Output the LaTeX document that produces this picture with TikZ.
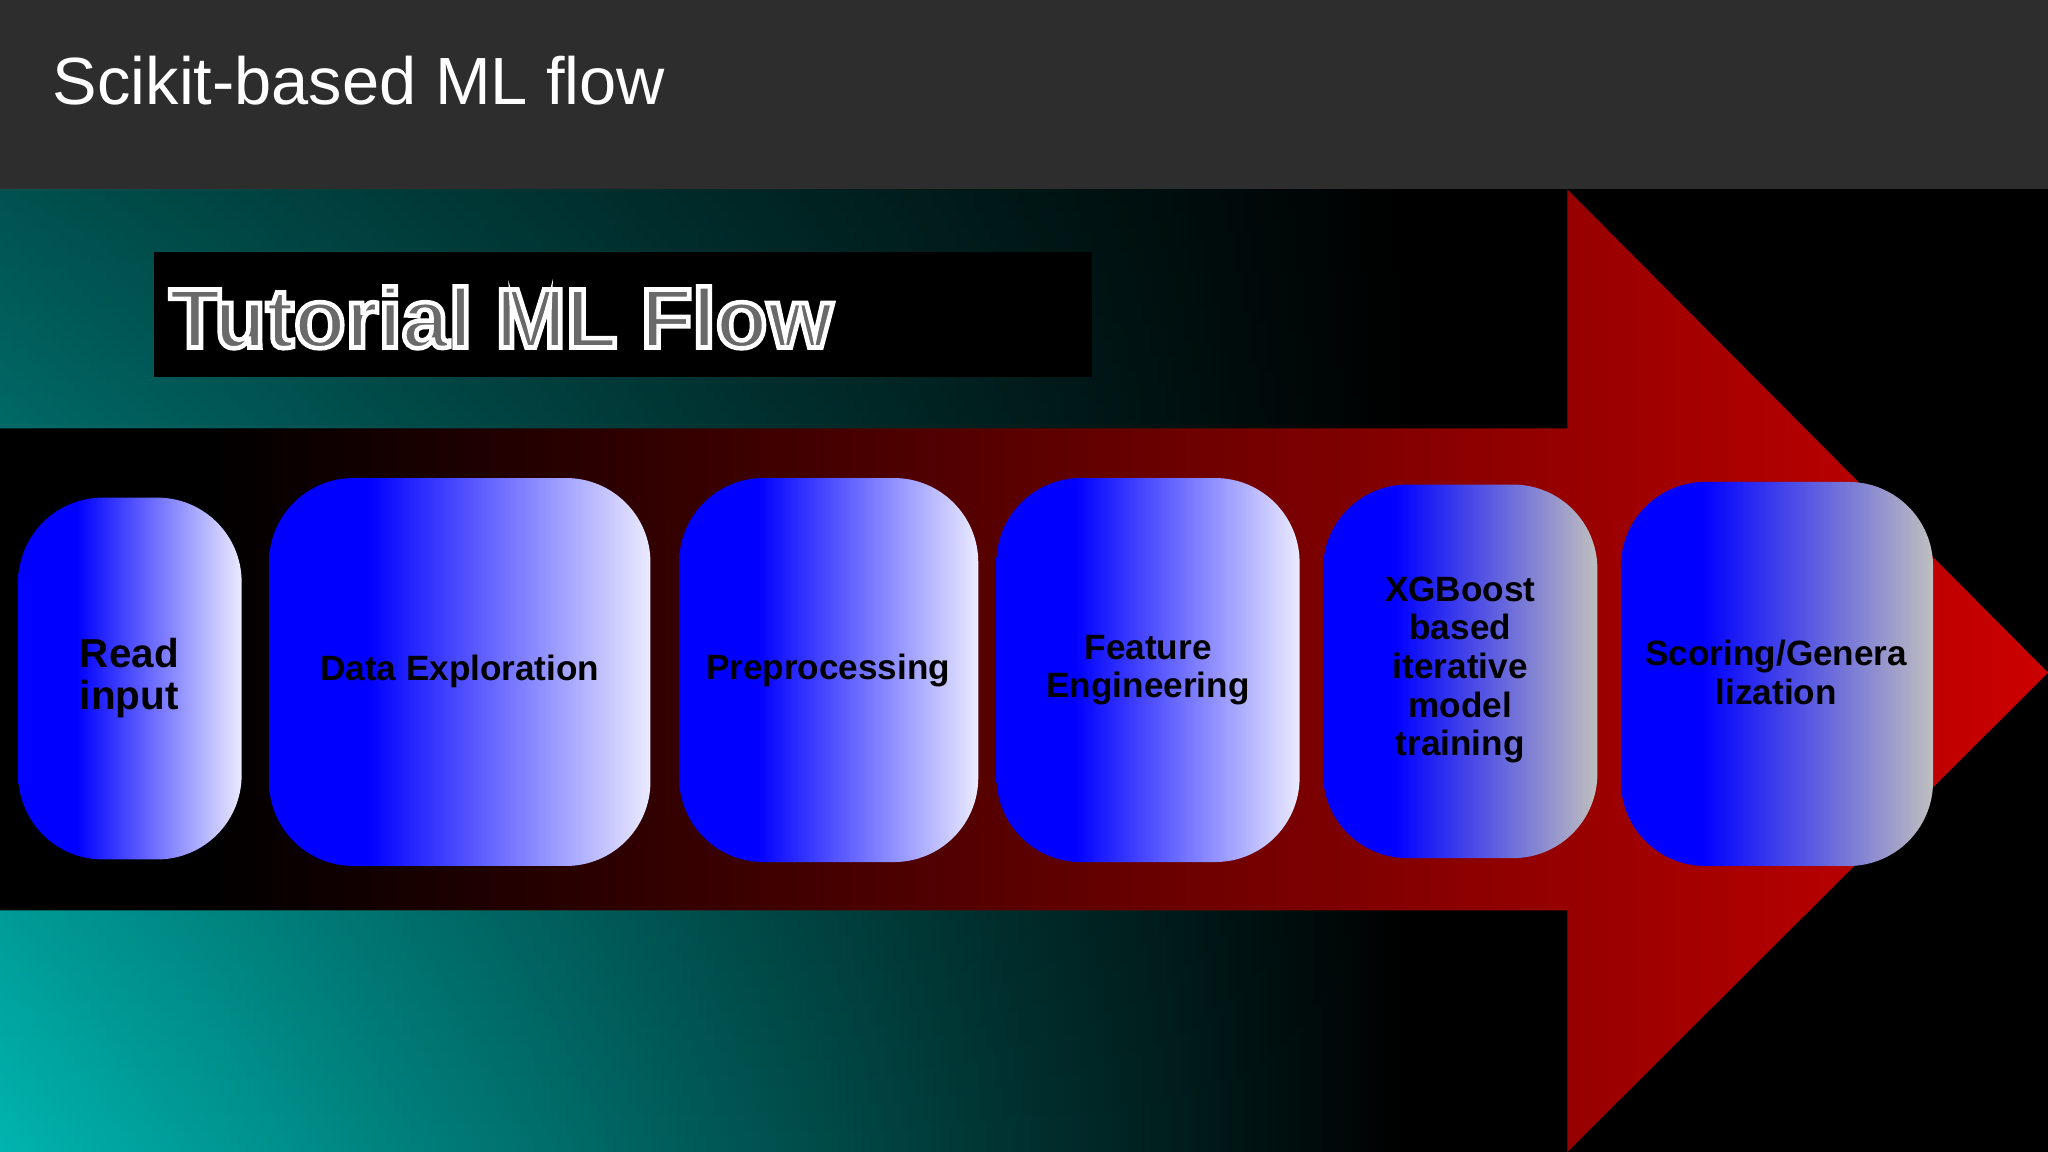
\documentclass[tikz,border=0pt]{standalone}
\usepackage{fontspec}
\setmainfont{Liberation Sans}
\usetikzlibrary{fadings}
\definecolor{topbar}{HTML}{2D2D2D}
\definecolor{teal1}{HTML}{00B5B0}
\definecolor{redA}{HTML}{CC0000}
\definecolor{tutfill}{HTML}{6A6A6A}
\pgfdeclarehorizontalshading{boxsh}{100bp}{color(0bp)=(blue); color(25bp)=(blue); color(38bp)=(blue); color(75bp)=(white!92!blue); color(100bp)=(white!92!blue)}
\pgfdeclarehorizontalshading{boxshg}{100bp}{color(0bp)=(blue); color(25bp)=(blue); color(38bp)=(blue); color(75bp)=(gray!50!white); color(100bp)=(gray!50!white)}
\pgfdeclarehorizontalshading{arrsh}{100bp}{color(0bp)=(black); color(25bp)=(black); color(30bp)=(black); color(75bp)=(redA); color(100bp)=(redA)}
\pgfdeclarehorizontalshading{tealsh}{100bp}{color(0bp)=(teal1); color(25bp)=(teal1); color(70bp)=(black); color(75bp)=(black); color(100bp)=(black)}
\tikzset{
  stagebox/.style={rounded corners=24, shading=boxsh},
  stagetext/.style={align=center, font=\bfseries\fontsize{10}{11}\selectfont, text=black},
}
\begin{document}
\begin{tikzpicture}[x=0.01306cm,y=-0.01306cm]
\useasboundingbox (0,0) rectangle (1568,882);
\fill[black] (0,0) rectangle (1568,882);
\fill[topbar] (0,0) rectangle (1568,145);
\node[anchor=west,text=white,font=\fontsize{19}{23}\selectfont] (title) at (31,62) {Scikit-based ML flow};
% teal background
\shade[shading=tealsh] (0,145) rectangle (1200,882);
\fill[black,opacity=0.55,path fading=south] (0,145) rectangle (1200,882);
% arrow
\shade[shading=arrsh] (0,328) -- (1200,328) -- (1200,145) -- (1568,515) -- (1200,882) -- (1200,697) -- (0,697) -- cycle;
% tutorial box
\fill[black] (118,193) rectangle (836,289);
\node[anchor=west,font=\bfseries\fontsize{24}{29}\selectfont] (tut) at (120,243)
  {\color{tutfill}\special{pdf:literal direct 1 1 1 RG 2 Tr 1.3 w}Tutorial ML Flow\special{pdf:literal direct 0 Tr}};
% boxes
\path[stagebox] (14,381) rectangle (185,658);
\node[stagetext,font=\bfseries\fontsize{11.5}{12}\selectfont] (b1) at (99,519) {Read\\input};
\path[stagebox] (206,366) rectangle (498,663);
\node[stagetext] (b2) at (352,514) {Data Exploration};
\path[stagebox] (520,366) rectangle (749,660);
\node[stagetext] (b3) at (634,513) {Preprocessing};
\path[stagebox] (763,366) rectangle (995,660);
\node[stagetext] (b4) at (879,513) {Feature\\Engineering};
\path[stagebox,shading=boxshg] (1013,371) rectangle (1223,657);
\node[stagetext] (b5) at (1118,513) {XGBoost\\based\\iterative\\model\\training};
\path[stagebox,shading=boxshg] (1241,369) rectangle (1480,663);
\node[stagetext] (b6) at (1360,515) {Scoring/Genera\\lization};
\end{tikzpicture}
\end{document}
